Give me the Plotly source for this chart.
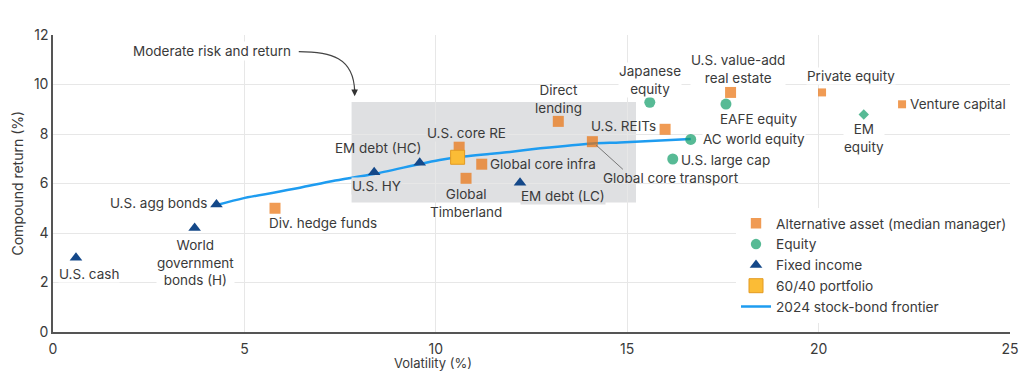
import plotly.graph_objects as go

# ---------------- data ----------------
alt_names = ["Div. hedge funds", "U.S. core RE", "Global core infra", "Global<br>Timberland",
             "Direct<br>lending", "Global core transport", "U.S. REITs",
             "U.S. value-add<br>real estate", "Private equity", "Venture capital"]
alt_vol = [5.8, 10.61, 11.2, 10.79, 13.2, 14.09, 15.99, 17.7, 20.09, 22.18]
alt_ret = [5.0, 7.48, 6.78, 6.21, 8.51, 7.69, 8.19, 9.68, 9.68, 9.2]

eq_names = ["Japanese<br>equity", "AC world equity", "U.S. large cap", "EAFE equity", "EM<br>equity"]
eq_vol = [15.59, 16.66, 16.19, 17.58, 21.18]
eq_ret = [9.28, 7.78, 6.99, 9.21, 8.79]

fi_names = ["U.S. cash", "World<br>government<br>bonds (H)", "U.S. agg bonds",
            "U.S. HY", "EM debt (HC)", "EM debt (LC)"]
fi_vol = [0.6, 3.7, 4.27, 8.39, 9.58, 12.2]
fi_ret = [3.0, 4.2, 5.15, 6.45, 6.84, 6.03]

pf_names = ["60/40 portfolio"]
pf_vol = [10.57]
pf_ret = [7.06]

frontier_vol = [4.28, 4.96, 6.45, 7.31, 8.38, 9.58, 10.1, 10.57, 11.85, 12.73, 14.1, 14.81, 16.66]
frontier_ret = [5.13, 5.40, 5.83, 6.10, 6.38, 6.79, 6.95, 7.06, 7.26, 7.42, 7.62, 7.66, 7.80]

x_ticks = [0, 5, 10, 15, 20, 25]
y_ticks = [0, 2, 4, 6, 8, 10, 12]

# moderate zone (volatility, return) bounds
zone_vol = [7.8, 15.23]
zone_ret = [5.23, 9.29]

# ---------------- styles ----------------
FONT = "Inter"
TXT = "#3a3a3a"
ORANGE = "#e9700b"
GREEN = "#109c68"
NAVY = "#144889"
YELLOW = "#fbbc36"
BLUE = "#1e9cf0"
ZONE = "#dfe0e2"
GRID = "#e7e7e7"
LBL = 13.5

fig = go.Figure()

fig.add_trace(go.Scatter(
    x=frontier_vol, y=frontier_ret, mode="lines", name="2024 stock-bond frontier",
    line=dict(color=BLUE, width=2.5, shape="spline", smoothing=0.6), legendrank=5,
    hoverinfo="skip"))

alt_sizes = [11 if n not in ("Private equity", "Venture capital") else 8 for n in alt_names]
fig.add_trace(go.Scatter(
    x=alt_vol, y=alt_ret, mode="markers", name="Alternative asset (median manager)",
    marker=dict(symbol="square", color=ORANGE, size=alt_sizes, line=dict(width=0)),
    text=alt_names, legendrank=1))

eq_symbols = ["diamond" if n.startswith("EM") else "circle" for n in eq_names]
eq_sizes = [8 if s == "diamond" else 11 for s in eq_symbols]
fig.add_trace(go.Scatter(
    x=eq_vol, y=eq_ret, mode="markers", name="Equity",
    marker=dict(symbol=eq_symbols, color=GREEN, size=eq_sizes, line=dict(width=0)),
    text=eq_names, legendrank=2))

fig.add_trace(go.Scatter(
    x=fi_vol, y=fi_ret, mode="markers", name="Fixed income",
    marker=dict(symbol="triangle-up", color=NAVY, size=11, line=dict(width=0)),
    text=fi_names, legendrank=3))

fig.add_trace(go.Scatter(
    x=pf_vol, y=pf_ret, mode="markers", name="60/40 portfolio",
    marker=dict(symbol="square", color=YELLOW, size=14, line=dict(width=1, color="#e39a22")),
    text=pf_names, legendrank=4))

# moderate zone rectangle
fig.add_shape(type="rect", xref="x", yref="y", x0=zone_vol[0], x1=zone_vol[1],
              y0=zone_ret[0], y1=zone_ret[1], fillcolor=ZONE, line=dict(width=0), layer="below")

CLEAR = "rgba(0,0,0,0)"
# label placement: name -> (xanchor, xshift, yshift, background)
label_style = {
    "U.S. cash": ("center", 13, -16, "white"),
    "World<br>government<br>bonds (H)": ("center", 1, -34, "white"),
    "U.S. agg bonds": ("right", -7, 2, "white"),
    "Div. hedge funds": ("left", -7, -15, "white"),
    "U.S. HY": ("center", 2, -14, ZONE),
    "EM debt (HC)": ("right", 2, 15, CLEAR),
    "U.S. core RE": ("center", 7, 14, ZONE),
    "Global core infra": ("left", 7, 0, ZONE),
    "Global<br>Timberland": ("center", 0, -25, CLEAR),
    "EM debt (LC)": ("left", 0, -13, ZONE),
    "Direct<br>lending": ("center", 0, 22, CLEAR),
    "Global core transport": ("left", 10, -36, CLEAR),
    "U.S. REITs": ("right", -8, 3, CLEAR),
    "Japanese<br>equity": ("center", 0, 22, "white"),
    "U.S. value-add<br>real estate": ("center", 7, 23, "white"),
    "EAFE equity": ("left", -7, -15, "white"),
    "AC world equity": ("left", 11, 0, "white"),
    "U.S. large cap": ("left", 7, -1, "white"),
    "Private equity": ("center", 29, 16, "white"),
    "EM<br>equity": ("center", 0, -24, "white"),
    "Venture capital": ("left", 7, 0, "white"),
}

annotations = []
for names, xs, ys in [(alt_names, alt_vol, alt_ret), (eq_names, eq_vol, eq_ret), (fi_names, fi_vol, fi_ret)]:
    for n, xv, yv in zip(names, xs, ys):
        xa, xs_, ys_, bg = label_style[n]
        annotations.append(dict(
            x=xv, y=yv, xref="x", yref="y", text=n, showarrow=False,
            xanchor=xa, yanchor="middle", xshift=xs_, yshift=ys_,
            font=dict(family=FONT, size=LBL, color=TXT), bgcolor=bg, borderpad=0,
            align="center"))

# leader line for Global core transport
gi = alt_names.index("Global core transport")
annotations.append(dict(
    x=alt_vol[gi], y=alt_ret[gi], xref="x", yref="y", text="", showarrow=True,
    axref="pixel", ayref="pixel", ax=32, ay=29, arrowhead=0, arrowwidth=1,
    arrowcolor="#777777", standoff=5))

# callout
callout_text_pos = (4.15, 11.36)
callout_tip = (7.88, 9.53)
annotations.append(dict(
    x=callout_text_pos[0], y=callout_text_pos[1], xref="x", yref="y",
    text="Moderate risk and return", showarrow=False,
    font=dict(family=FONT, size=LBL, color=TXT), bgcolor="white", borderpad=1))
annotations.append(dict(
    x=callout_tip[0], y=callout_tip[1], xref="x", yref="y", text="", showarrow=True,
    axref="pixel", ayref="pixel", ax=0, ay=-9, arrowhead=2, arrowsize=1.1,
    arrowwidth=1.2, arrowcolor="#333333"))
fig.add_shape(type="path", xref="x", yref="y",
              path=f"M 6.42 11.33 C 7.25 11.33, 7.86 11.1, {callout_tip[0]} 9.72",
              line=dict(color="#444444", width=1.2), layer="above")

# axis titles
annotations.append(dict(x=0.397, y=-0.103, xref="paper", yref="paper", text="Volatility (%)",
                        xanchor="center", yanchor="middle",
                        showarrow=False, font=dict(family=FONT, size=13, color=TXT)))
annotations.append(dict(x=-0.037, y=0.502, xref="paper", yref="paper", text="Compound return (%)",
                        xanchor="center", yanchor="middle",
                        showarrow=False, textangle=-90, font=dict(family=FONT, size=14, color=TXT)))

fig.update_layout(
    width=1024, height=374,
    margin=dict(l=53, r=14, t=35, b=42, autoexpand=False),
    paper_bgcolor="white", plot_bgcolor="white",
    font=dict(family=FONT, size=14, color=TXT),
    showlegend=True,
    legend=dict(x=0.7137, y=0.418, xanchor="left", yanchor="top",
                bgcolor="white", font=dict(family=FONT, size=13.7, color=TXT),
                itemsizing="trace", tracegroupgap=0),
    annotations=annotations,
    hovermode=False,
)
fig.update_xaxes(range=[0, 25], tickvals=x_ticks, ticktext=[str(v) for v in x_ticks],
                 showgrid=True, gridcolor=GRID, gridwidth=1, zeroline=False,
                 showline=True, linecolor="#555555", linewidth=2, ticks="",
                 ticklabelstandoff=3,
                 tickfont=dict(family=FONT, size=14, color=TXT))
fig.update_yaxes(range=[0, 12], tickvals=y_ticks, ticktext=[str(v) for v in y_ticks],
                 showgrid=True, gridcolor=GRID, gridwidth=1, zeroline=False,
                 showline=True, linecolor="#555555", linewidth=1.5, ticks="",
                 tickfont=dict(family=FONT, size=14, color=TXT))

fig.write_html("out.html")
